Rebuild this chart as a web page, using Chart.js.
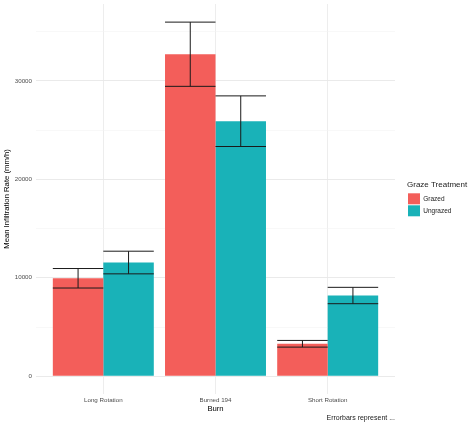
<!DOCTYPE html>
<html>
<head>
<meta charset="utf-8">
<script src="https://cdn.jsdelivr.net/npm/chart.js@4/dist/chart.umd.min.js"></script>
<style>
  html, body { margin: 0; padding: 0; background: #fff; }
</style>
</head>
<body>
<canvas id="burnChart" width="474" height="426"></canvas>
<script>
// burn categories along x (placed at 1, 2, 3 like ggplot's discrete axis)
const burns = ['Long Rotation', 'Burned 194', 'Short Rotation'];
const burnPos = [1, 2, 3];

// mean infiltration rate (mm/h) and error bar half-widths
const grazed = [9950, 32700, 3300];
const grazedErr = [990, 3260, 340];
const ungrazed = [11550, 25900, 8200];
const ungrazedErr = [1150, 2570, 830];

// y ticks: labelled majors and unlabelled minors
const yMajor = [0, 10000, 20000, 30000];
const yMinor = [5000, 15000, 25000, 35000];

const FONT = '"Liberation Sans", Arial, sans-serif';

// legend clips to its own box, so give it room for the title
const legendWidth = {
  id: 'legendWidth',
  beforeLayout(chart) {
    const lg = chart.legend;
    if (lg && !lg._widthPatched) {
      const fit = lg.fit;
      lg.fit = function () { fit.call(this); this.width = 67; };
      lg._widthPatched = true;
    }
  }
};

// draws the error bars on top of each bar, using the chart's own scales
const errorBars = {
  id: 'errorBars',
  afterDatasetsDraw(chart) {
    const ctx = chart.ctx;
    const yScale = chart.scales.y;
    chart.data.datasets.forEach((ds, i) => {
      const meta = chart.getDatasetMeta(i);
      meta.data.forEach((bar, j) => {
        const v = ds.data[j].y;
        const e = ds.errors[j];
        const top = yScale.getPixelForValue(v + e);
        const bot = yScale.getPixelForValue(v - e);
        const half = bar.width / 2;
        ctx.save();
        ctx.strokeStyle = '#1a1a1a';
        ctx.lineWidth = 1;
        ctx.beginPath();
        ctx.moveTo(bar.x - half, top); ctx.lineTo(bar.x + half, top);
        ctx.moveTo(bar.x, top); ctx.lineTo(bar.x, bot);
        ctx.moveTo(bar.x - half, bot); ctx.lineTo(bar.x + half, bot);
        ctx.stroke();
        ctx.restore();
      });
    });
  }
};

new Chart(document.getElementById('burnChart'), {
  type: 'bar',
  data: {
    datasets: [
      {
        label: 'Grazed',
        data: burnPos.map((x, i) => ({ x: x, y: grazed[i] })),
        errors: grazedErr,
        backgroundColor: '#F35E5A',
        borderWidth: 0,
        yAxisID: 'y'
      },
      {
        label: 'Ungrazed',
        data: burnPos.map((x, i) => ({ x: x, y: ungrazed[i] })),
        errors: ungrazedErr,
        backgroundColor: '#19B2B8',
        borderWidth: 0,
        yAxisID: 'y'
      }
    ]
  },
  options: {
    responsive: false,
    animation: false,
    barPercentage: 1,
    categoryPercentage: 0.9,
    layout: { padding: { top: 4, right: 0, bottom: 4, left: 0 } },
    scales: {
      x: {
        type: 'linear',
        min: 0.4,
        max: 3.6,
        offset: false,
        afterBuildTicks: s => { s.ticks = burnPos.map(v => ({ value: v })); },
        afterFit: s => { s.height = 19.6; s.paddingLeft = 0; s.paddingRight = 0; },
        ticks: {
          callback: v => burns[burnPos.indexOf(v)] || '',
          font: { family: FONT, size: 6.2 },
          color: '#4d4d4d',
          padding: 3,
          maxRotation: 0
        },
        grid: { color: '#ebebeb', lineWidth: 0.9, drawTicks: false, offset: false },
        border: { display: false },
        title: {
          display: true,
          text: 'Burn',
          font: { family: FONT, size: 7.7 },
          color: '#000',
          padding: { top: 0, bottom: 0 }
        }
      },
      y: {
        min: -1800,
        max: 37800,
        afterBuildTicks: s => {
          s.ticks = yMajor.concat(yMinor).sort((a, b) => a - b).map(v => ({ value: v }));
        },
        afterFit: s => { s.width = 36; s.paddingTop = 0; s.paddingBottom = 0; },
        ticks: {
          callback: v => (yMajor.includes(v) ? String(v) : ''),
          font: { family: FONT, size: 6.2 },
          color: '#4d4d4d',
          padding: 4
        },
        grid: {
          drawTicks: false,
          color: c => (yMajor.includes(c.tick && c.tick.value) ? '#e8e8e8' : '#f3f3f3'),
          lineWidth: c => (yMajor.includes(c.tick && c.tick.value) ? 0.9 : 0.6)
        },
        border: { display: false },
        title: {
          display: true,
          text: 'Mean Infiltration Rate (mm/h)',
          font: { family: FONT, size: 7.7 },
          color: '#000',
          padding: { top: 2.5, bottom: 0 }
        }
      },
      // empty right axis, only there to leave the gap before the legend
      yr: {
        type: 'linear',
        position: 'right',
        afterFit: s => { s.width = 12; s.paddingTop = 0; s.paddingBottom = 0; },
        ticks: { display: false },
        grid: { display: false },
        border: { display: false }
      }
    },
    plugins: {
      legend: {
        position: 'right',
        align: 'center',
        fullSize: false,
        title: {
          display: true,
          text: 'Graze Treatment',
          position: 'start',
          font: { family: FONT, size: 8 },
          color: '#1a1a1a',
          padding: { top: 0, bottom: 2 }
        },
        labels: {
          boxWidth: 12,
          boxHeight: 11,
          padding: 1,
          font: { family: FONT, size: 6.5 },
          color: '#1a1a1a'
        }
      },
      subtitle: {
        display: true,
        text: 'Errorbars represent ...',
        position: 'bottom',
        align: 'end',
        fullSize: false,
        font: { family: FONT, size: 7 },
        color: '#1a1a1a',
        padding: { top: 0, bottom: 0 }
      },
      tooltip: { enabled: false }
    }
  },
  plugins: [legendWidth, errorBars]
});
</script>
</body>
</html>
